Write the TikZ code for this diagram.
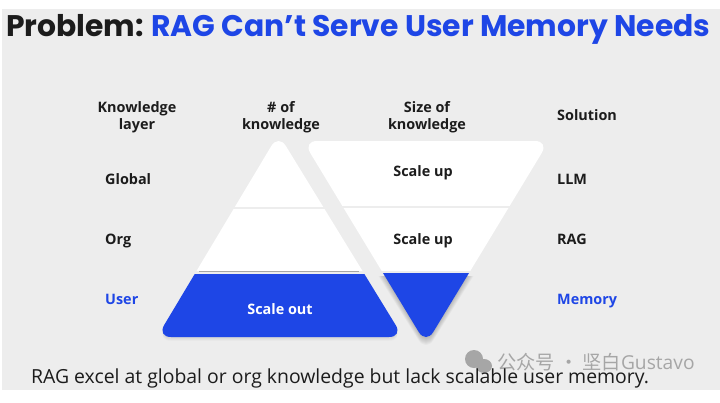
\documentclass[tikz,border=0pt]{standalone}
\usepackage{fontspec}
\setmainfont{Open Sans}
\newfontfamily\titlefont{Poppins}
\newfontfamily\cjkfont{Noto Sans CJK SC}
\definecolor{ragblue}{HTML}{1E46E6}
\definecolor{slidegray}{HTML}{EDEDED}
\definecolor{inkblack}{HTML}{1C1C1C}
\definecolor{markgray}{HTML}{A6A6A6}
\tikzset{
  label/.style = {font=\bfseries\fontsize{14.4}{17}\selectfont, text=inkblack, align=center},
  rowlabel/.style = {label, anchor=base west, inner sep=0pt},
  titletext/.style = {anchor=base west, inner sep=0pt, font=\titlefont\bfseries\fontsize{29.8}{32}\selectfont},
  corner/.style = {rounded corners=14pt},
}
\newcommand{\uppyramid}{(278.5,134) -- (403,337) -- (157,337) -- cycle}
\newcommand{\downpyramid}{(303,141) -- (549,141) -- (426,344) -- cycle}
\begin{document}
\begin{tikzpicture}[x=1pt, y=-1pt]
  \useasboundingbox (0,0) rectangle (720,402);
  \fill[white] (0,0) rectangle (720,402);
  \fill[slidegray] (2,9) rectangle (720,390);
  % soft shadow under the blue parts
  \begin{scope}
    \clip (0,276) rectangle (720,402);
    \foreach \grow in {1,...,8} {
      \fill[black, opacity=0.028, corner, yshift=-\grow pt] (426-\grow/2,141) -- (549+\grow/2,141) -- (426,344) -- (303-\grow/2,141) -- cycle;
      \fill[black, opacity=0.012, corner, yshift=-\grow/2 pt] \uppyramid;
    }
  \end{scope}
  % left pyramid
  \begin{scope}
    \clip (0,130) rectangle (720,206);
    \fill[white, corner] \uppyramid;
  \end{scope}
  \begin{scope}
    \clip (0,209) rectangle (720,270.5);
    \fill[white, corner] \uppyramid;
  \end{scope}
  \draw[gray!70, line width=0.8pt] (199,271.5) -- (359,271.5);
  \begin{scope}
    \clip (0,274) rectangle (720,345);
    \fill[ragblue, corner] \uppyramid;
  \end{scope}
  % right pyramid
  \begin{scope}
    \clip (0,130) rectangle (720,205);
    \fill[white, corner] \downpyramid;
  \end{scope}
  \begin{scope}
    \clip (0,208) rectangle (720,270);
    \fill[white, corner] \downpyramid;
  \end{scope}
  \begin{scope}
    \clip (0,273.5) rectangle (720,345);
    \fill[ragblue, corner] \downpyramid;
  \end{scope}
  % headers and rows
  \node[label] (layerhead) at (137,117) {Knowledge\\layer};
  \node[label] (counthead) at (281,117) {\# of\\knowledge};
  \node[label] (sizehead) at (427,117) {Size of\\knowledge};
  \node[rowlabel] (solutionhead) at (557,120) {Solution};
  \node[rowlabel] (global) at (105,184) {Global};
  \node[rowlabel] (org) at (105,244) {Org};
  \node[rowlabel, text=ragblue] (user) at (105,304) {User};
  \node[rowlabel] (llm) at (557,184) {LLM};
  \node[rowlabel] (rag) at (557,244) {RAG};
  \node[rowlabel, text=ragblue] (memory) at (557,304) {Memory};
  \node[label] (scaletop) at (423,173) {Scale up};
  \node[label] (scalemid) at (423,241) {Scale up};
  \node[label, text=white] (scaleout) at (280,309) {Scale out};
  % watermark
  \fill[markgray] (474,359) ellipse (9 and 9);
  \fill[markgray] (484,366) ellipse (8 and 7);
  \node[anchor=base west, inner sep=0pt, font=\fontsize{19.2}{22}\selectfont, text=markgray] (mark) at (497,369) {{\cjkfont 公众号 · 坚白}Gustavo};
  % title and caption
  \node[titletext, text=inkblack] (problem) at (6,36) {Problem:};
  \node[titletext, text=ragblue] (headline) at (151,36) {RAG Can’t Serve User Memory Needs};
  \node[anchor=base west, inner sep=0pt, font=\fontsize{19.4}{22}\selectfont, text=inkblack] (caption) at (31,383) {RAG excel at global or org knowledge but lack scalable user memory.};
\end{tikzpicture}
\end{document}
